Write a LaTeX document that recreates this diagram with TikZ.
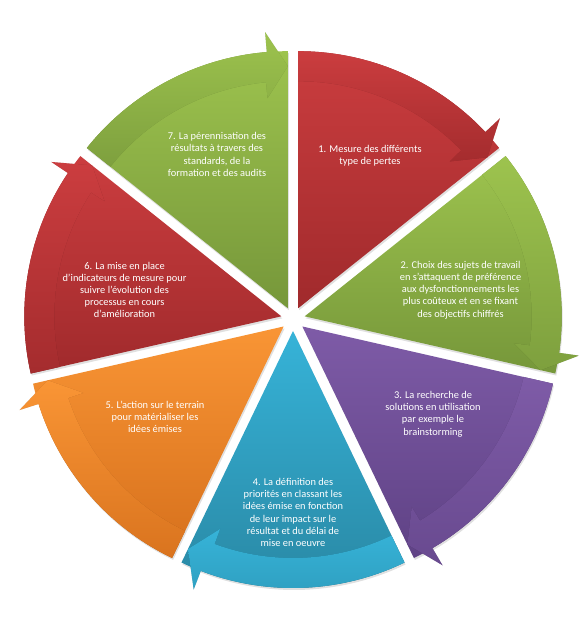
\documentclass[tikz,border=0pt]{standalone}
\usepackage{fontspec}
\setmainfont{Carlito}
\usetikzlibrary{calc}
\definecolor{redL}{HTML}{CB3D3F}
\definecolor{redD}{HTML}{A02A2C}
\definecolor{greenL}{HTML}{9DC34E}
\definecolor{greenD}{HTML}{76973A}
\definecolor{purpleL}{HTML}{7E5BA7}
\definecolor{purpleD}{HTML}{5F4285}
\definecolor{blueL}{HTML}{36B3D8}
\definecolor{blueD}{HTML}{2987A3}
\definecolor{blueB}{HTML}{2F9FC0}
\definecolor{orangeL}{HTML}{F99535}
\definecolor{orangeD}{HTML}{D6701C}
\newcommand\drawwedge[3]{%
  \pgfmathsetmacro\as{90-(#1-1)*360/7}%
  \pgfmathsetmacro\ae{\as-360/7}%
  \pgfmathsetmacro\ab{\as-180/7}%
  \coordinate (o#1) at ($(C)+(\ab:12)$);%
  \fill[black,opacity=0.12] ([shift={(1,-2)}]o#1) -- ([shift={(1,-2)}]$(o#1)+(\as:257)$) arc[start angle=\as,end angle=\ae,radius=257] -- cycle;%
  \shade[top color=#2,bottom color=#3] (o#1) -- ($(o#1)+(\as:257)$) arc[start angle=\as,end angle=\ae,radius=257] -- cycle;%
}
\newcommand\drawband[3]{%
  \pgfmathsetmacro\as{90-(#1-1)*360/7}%
  \pgfmathsetmacro\ae{\as-360/7}%
  \pgfmathsetmacro\ab{\as-180/7}%
  \pgfmathsetmacro\ao{\ae+4.7}%
  \pgfmathsetmacro\ai{\ae+5.5}%
  \begin{scope}[shift={(\ab+180:2.5)}]
    \fill[black,opacity=0.22] ($(o#1)+(\as:257)$) arc[start angle=\as,end angle=\ao,radius=257] -- ($(o#1)+(\ao:277)$) -- ($(o#1)+(\ae:242)$) -- ($(o#1)+(\ai:211)$) -- ($(o#1)+(\ai:227)$) arc[start angle=\ai,end angle=\as,radius=227] -- cycle;
  \end{scope}
  \shade[top color=#2,bottom color=#3] ($(o#1)+(\as:257)$) arc[start angle=\as,end angle=\ao,radius=257] -- ($(o#1)+(\ao:277)$) -- ($(o#1)+(\ae:242)$) -- ($(o#1)+(\ai:211)$) -- ($(o#1)+(\ai:227)$) arc[start angle=\ai,end angle=\as,radius=227] -- cycle;%
}
\begin{document}
\begin{tikzpicture}[x=1pt,y=1pt,
  txt/.style={text=white,align=center,font=\fontsize{10.4}{12.2}\selectfont,inner sep=0pt}]
\useasboundingbox[fill=white] (0,0) rectangle (587,640);
\coordinate (C) at (293,321);
\drawwedge{1}{redL}{redD}
\drawwedge{2}{greenL}{greenD}
\drawwedge{3}{purpleL}{purpleD}
\drawwedge{4}{blueL}{blueD}
\drawwedge{5}{orangeL}{orangeD}
\drawwedge{6}{redL}{redD}
\drawwedge{7}{greenL}{greenD}
\drawband{1}{redL}{redD!90!redL}
\drawband{2}{greenL}{greenD!80!greenL}
\drawband{3}{purpleL}{purpleD!70!purpleL}
\drawband{4}{blueL}{blueB}
\drawband{5}{orangeL}{orangeD!90!orangeL}
\drawband{6}{redL}{redD!90!redL}
\drawband{7}{greenL}{greenD!80!greenL}
\node[txt] (t1) at (370,484.5) {1. Mesure des différents\\type de pertes};
\node[txt] (t2) at (460.5,350) {2. Choix des sujets de travail\\en s'attaquent de préférence\\aux dysfonctionnements les\\plus coûteux et en se fixant\\des objectifs chiffrés};
\node[txt] (t3) at (433,226) {3. La recherche de\\solutions en utilisation\\par exemple le\\brainstorming};
\node[txt] (t4) at (293,127.5) {4. La définition des\\priorités en classant les\\idées émise en fonction\\de leur impact sur le\\résultat et du délai de\\mise en oeuvre};
\node[txt] (t5) at (155,223) {5. L'action sur le terrain\\pour matérialiser les\\idées émises};
\node[txt] (t6) at (124.5,350) {6. La mise en place\\d'indicateurs de mesure pour\\suivre l'évolution des\\processus en cours\\d'amélioration};
\node[txt] (t7) at (217,485.5) {7. La pérennisation des\\résultats à travers des\\standards, de la\\formation et des audits};
\end{tikzpicture}
\end{document}
